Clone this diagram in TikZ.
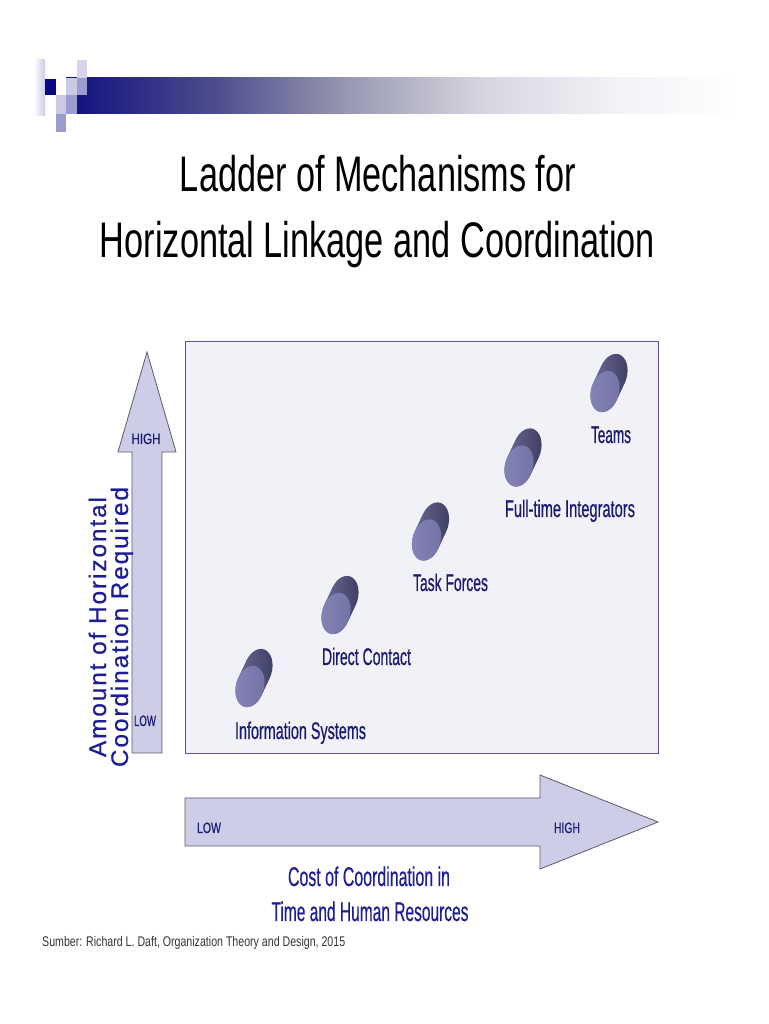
\documentclass[tikz,border=0pt]{standalone}
\usepackage{fontspec}
\setmainfont{Liberation Sans}
\usetikzlibrary{shapes.geometric}
\definecolor{navytxt}{HTML}{1A1A70}
\definecolor{axtxt}{HTML}{1E1E94}
\definecolor{arrfill}{HTML}{CDCDE8}
\definecolor{arredge}{HTML}{5C5C66}
\definecolor{boxfill}{HTML}{F1F1F8}
\definecolor{boxedge}{HTML}{5656A0}
\definecolor{lightsq}{HTML}{CACAE6}
\definecolor{midsq}{HTML}{9C9CD0}
\definecolor{darksq}{HTML}{0A0A80}
\definecolor{cylfrontA}{HTML}{8484B6}
\definecolor{cylfrontB}{HTML}{7272A4}
\definecolor{cylbodyA}{HTML}{6C6C9A}
\definecolor{cylbodyB}{HTML}{3E3E62}
\definecolor{srctxt}{HTML}{333333}
\pgfdeclarehorizontalshading{barshade}{100bp}{rgb(0bp)=(0.06,0.06,0.50); rgb(25bp)=(0.06,0.06,0.50); rgb(36bp)=(0.30,0.30,0.55); rgb(46bp)=(0.60,0.60,0.70); rgb(56bp)=(0.84,0.84,0.88); rgb(66bp)=(0.95,0.95,0.97); rgb(75bp)=(1,1,1); rgb(100bp)=(1,1,1)}
\newcommand{\FitText}[3]{\resizebox{#1pt}{\height}{\fontsize{#2}{#2}\selectfont #3}}
\tikzset{
  arrowshape/.style={fill=arrfill, draw=arredge, line width=0.8pt, line join=miter},
  lbl/.style={inner sep=0pt, anchor=base, text=navytxt},
  axlbl/.style={inner sep=0pt, anchor=base, text=axtxt},
  pics/cyl/.style={code={
    \begin{scope}[shift={(-4,-8.5)},rotate=-15]
      \path[left color=cylbodyA, right color=cylbodyB]
        (13.517,-5.471) -- ++(3.327,18.492)
        arc[start angle=-15.10, end angle=164.90, x radius=14, y radius=21]
        -- (-13.517,5.471)
        arc[start angle=164.90, end angle=344.90, x radius=14, y radius=21]
        -- cycle;
      \path[left color=cylfrontA, right color=cylfrontB] (0,0) ellipse[x radius=14, y radius=21];
    \end{scope}
  }}
}
\begin{document}
\begin{tikzpicture}[x=1pt,y=1pt]
\useasboundingbox (0,0) rectangle (768,1024);
\fill[white] (0,0) rectangle (768,1024);

% top decoration
\path[shading=barshade] (66,910) rectangle (740,946);
\fill[left color=white, right color=lightsq] (34,908) rectangle (45,964);
\fill[darksq] (45,929) rectangle (56,945);
\fill[lightsq!80!white] (77,946) rectangle (87,964);
\fill[lightsq] (66,929) rectangle (77,946);
\fill[midsq] (77,929) rectangle (87,946);
\fill[lightsq] (56,910) rectangle (66,929);
\fill[midsq] (66,910) rectangle (77,929);
\fill[midsq!95!gray] (56,892) rectangle (66,910);

% title
\node[inner sep=0pt, anchor=base] (title1) at (378,832) {\FitText{396}{50}{Ladder of Mechanisms for}};
\node[inner sep=0pt, anchor=base] (title2) at (377.5,766) {\FitText{555}{50}{Horizontal Linkage and Coordination}};

% main panel
\node[draw=boxedge, fill=boxfill, line width=0.9pt, minimum width=473pt, minimum height=412pt, inner sep=0pt] (panel) at (421.5,477) {};

% vertical arrow
\draw[arrowshape] (132,271) -- (132,572) -- (118,572) -- (147,672) -- (176,572) -- (162,572) -- (162,271) -- cycle;
\node[lbl] (vhigh) at (146,580) {\FitText{29}{15}{\addfontfeature{FakeBold=0.4}HIGH}};
\node[lbl] (vlow) at (145,298) {\FitText{22}{15}{\addfontfeature{FakeBold=0.4}LOW}};

% horizontal arrow
\draw[arrowshape] (185,226) -- (540,226) -- (540,249) -- (658,202) -- (540,155) -- (540,178) -- (185,178) -- cycle;
\node[lbl] (hlow) at (209,191) {\FitText{24}{15}{\addfontfeature{FakeBold=0.4}LOW}};
\node[lbl] (hhigh) at (567,191) {\FitText{26}{15}{\addfontfeature{FakeBold=0.4}HIGH}};

% vertical axis title
\node[axlbl, rotate=90] (vt1) at (106,397) {\FitText{260}{24}{\addfontfeature{LetterSpace=8,FakeBold=0.6}Amount of Horizontal}};
\node[axlbl, rotate=90] (vt2) at (128,397) {\FitText{280}{24}{\addfontfeature{LetterSpace=8,FakeBold=0.6}Coordination Required}};

% horizontal axis title
\node[axlbl] (ht1) at (369,138) {\FitText{162}{27}{\addfontfeature{FakeBold=0.6}Cost of Coordination in}};
\node[axlbl] (ht2) at (370,103) {\FitText{197}{27}{\addfontfeature{FakeBold=0.6}Time and Human Resources}};

% cylinders
\pic (c1) at (254,346) {cyl};
\pic (c2) at (340,419) {cyl};
\pic (c3) at (430.5,492.5) {cyl};
\pic (c4) at (523,566.5) {cyl};
\pic (c5) at (609,641) {cyl};

\node[lbl] (l1) at (300.5,285) {\FitText{131}{24}{\addfontfeature{FakeBold=0.8}Information Systems}};
\node[lbl] (l2) at (366.5,359) {\FitText{89}{24}{\addfontfeature{FakeBold=0.8}Direct Contact}};
\node[lbl] (l3) at (450.5,433) {\FitText{75}{24}{\addfontfeature{FakeBold=0.8}Task Forces}};
\node[lbl] (l4) at (570,507) {\FitText{130}{24}{\addfontfeature{FakeBold=0.8}Full-time Integrators}};
\node[lbl] (l5) at (611,581) {\FitText{40}{24}{\addfontfeature{FakeBold=0.8}Teams}};

% source
\node[inner sep=0pt, anchor=base west, text=srctxt] (src) at (42,77) {\FitText{303}{14}{Sumber: Richard L. Daft, Organization Theory and Design, 2015}};
\end{tikzpicture}
\end{document}
